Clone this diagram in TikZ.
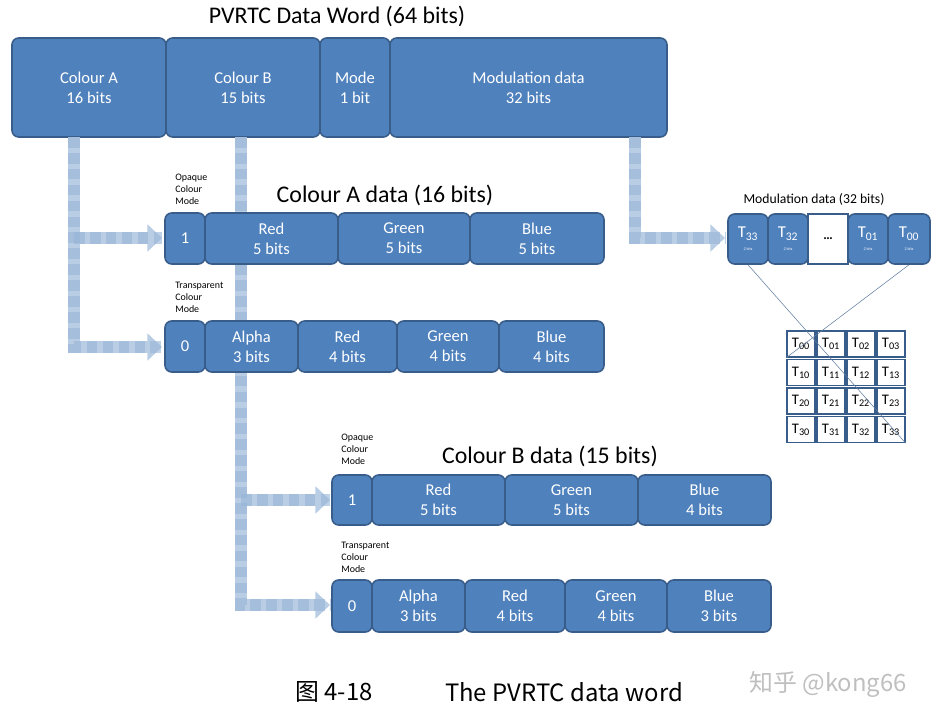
\documentclass[tikz,border=0pt]{standalone}
\usepackage{fontspec}
\setmainfont{Carlito}
\newfontfamily\cjk{Noto Sans CJK SC}
\usetikzlibrary{arrows.meta}
\definecolor{cellblue}{RGB}{79,129,189}
\definecolor{celledge}{RGB}{56,93,138}
\definecolor{bandblue}{RGB}{185,205,229}
\definecolor{banddash}{RGB}{150,180,215}
\begin{document}
\begin{tikzpicture}[x=0.0265cm,y=-0.0265cm,
    cell/.style ={draw=celledge, fill=cellblue, very thick, rounded corners=5pt, text=white, align=center, inner sep=0pt, font=\fontsize{12.5}{15}\selectfont},
    band/.style ={line width=9pt, bandblue, -{Triangle[width=20pt,length=11pt]}},
    bandrim/.style ={line width=9pt, banddash, dash pattern=on 8pt off 4pt, opacity=0.6},
    modetag/.style ={font=\fontsize{7.5}{9}\selectfont, align=left, anchor=north west, inner sep=0pt},
    title/.style ={font=\fontsize{18}{20}\selectfont}]
  \useasboundingbox (0,0) rectangle (944,725);
  % box macro: x0, x1, y0, y1, name, text
  \newcommand{\cellbox}[6]{\node[cell, minimum width={(#2-#1)*0.0265cm}, minimum height={(#4-#3)*0.0265cm}] (#5) at ({(#1+#2)/2},{(#3+#4)/2}) {#6};}
  \newcommand{\tx}[1]{T\textsubscript{#1}}
  % data word
  \node[title] (wordtitle) at (337,16) {PVRTC Data Word (64 bits)};
  \cellbox{12}{166}{38}{137}{cola}{Colour A\\16 bits}
  \cellbox{166}{320}{38}{137}{colb}{Colour B\\15 bits}
  \cellbox{320}{390}{38}{137}{mode}{Mode\\1 bit}
  \cellbox{390}{667}{38}{137}{modul}{Modulation data\\32 bits}
  % arrows
  \coordinate (aj1) at (74,238); \coordinate (aj2) at (74,347);
  \coordinate (bj1) at (241,500); \coordinate (bj2) at (241,605);
  \coordinate (mj) at (635,238);
  \foreach \s in {band,bandrim}{
    \draw[\s] (74,137) -- (aj2) -- (162,347);
    \draw[\s] (aj1) -- (162,238);
    \draw[\s] (241,137) -- (bj2) -- (330,605);
    \draw[\s] (bj1) -- (330,500);
    \draw[\s] (635,137) -- (mj) -- (725,238);
  }
  % colour A
  \node[title] (atitle) at (385,195) {Colour A data (16 bits)};
  \node[modetag] (atag1) at (175,174) {Opaque\\Colour\\Mode};
  \cellbox{165}{205}{213}{264}{aom}{1}
  \cellbox{205}{338}{213}{264}{aor}{Red\\5 bits}
  \cellbox{338}{470}{213}{264}{aog}{Green\\5 bits}
  \cellbox{470}{604}{213}{264}{aob}{Blue\\5 bits}
  \node[modetag] (atag2) at (175,282) {Transparent\\Colour\\Mode};
  \cellbox{165}{205}{321}{372}{atm}{0}
  \cellbox{205}{298}{321}{372}{ata}{Alpha\\3 bits}
  \cellbox{298}{397}{321}{372}{atr}{Red\\4 bits}
  \cellbox{397}{499}{321}{372}{atg}{Green\\4 bits}
  \cellbox{499}{604}{321}{372}{atb}{Blue\\4 bits}
  % colour B
  \node[title] (btitle) at (550,456) {Colour B data (15 bits)};
  \node[modetag] (btag1) at (341,434) {Opaque\\Colour\\Mode};
  \cellbox{332}{372}{475}{525}{bom}{1}
  \cellbox{372}{505}{475}{525}{bor}{Red\\5 bits}
  \cellbox{505}{638}{475}{525}{bog}{Green\\5 bits}
  \cellbox{638}{771}{475}{525}{bob}{Blue\\4 bits}
  \node[modetag] (btag2) at (341,542) {Transparent\\Colour\\Mode};
  \cellbox{332}{372}{580}{632}{btm}{0}
  \cellbox{372}{465}{580}{632}{bta}{Alpha\\3 bits}
  \cellbox{465}{565}{580}{632}{btr}{Red\\4 bits}
  \cellbox{565}{667}{580}{632}{btg}{Green\\4 bits}
  \cellbox{667}{771}{580}{632}{btb}{Blue\\3 bits}
  % modulation data
  \node[font=\fontsize{10.3}{12}\selectfont] (mtitle) at (814,199) {Modulation data (32 bits)};
  \cellbox{728}{768}{214}{264}{m33}{\tx{33}\\[-5pt]{\fontsize{3}{3}\selectfont 2 bits}}
  \cellbox{768}{808}{214}{264}{m32}{\tx{32}\\[-5pt]{\fontsize{3}{3}\selectfont 2 bits}}
  \node[draw=celledge, very thick, fill=white, minimum width=40*0.0265cm, minimum height=50*0.0265cm, inner sep=0pt] (mdots) at (828,239) {\textbf{\dots}};
  \cellbox{848}{888}{214}{264}{m01}{\tx{01}\\[-5pt]{\fontsize{3}{3}\selectfont 2 bits}}
  \cellbox{888}{930}{214}{264}{m00}{\tx{00}\\[-5pt]{\fontsize{3}{3}\selectfont 2 bits}}
  % texel grid
  \foreach \r in {0,...,3}{
    \foreach \c in {0,...,3}{
      \node[draw=celledge, thick, fill=white, minimum width=28*0.0265cm, minimum height=26*0.0265cm, inner sep=0pt, font=\fontsize{11}{13}\selectfont] (g\r\c) at ({801+\c*30},{344+\r*28.5}) {\tx{\r\c}};
    }
  }
  \draw[celledge!80, thin] (m33.south) -- (g33.south east);
  \draw[celledge!80, thin] (m00.south) -- (g00.south west);
  % caption
  \node[font=\cjk\fontsize{18}{20}\selectfont] (cap) at (334,692) {图 4-18};
  \node[font=\cjk\fontsize{18}{20}\selectfont] (capt) at (564,692) {The PVRTC data word};
  \node[font=\cjk\fontsize{18}{20}\selectfont, text=black!25] (mark) at (828,684) {知乎 @kong66};
\end{tikzpicture}
\end{document}
